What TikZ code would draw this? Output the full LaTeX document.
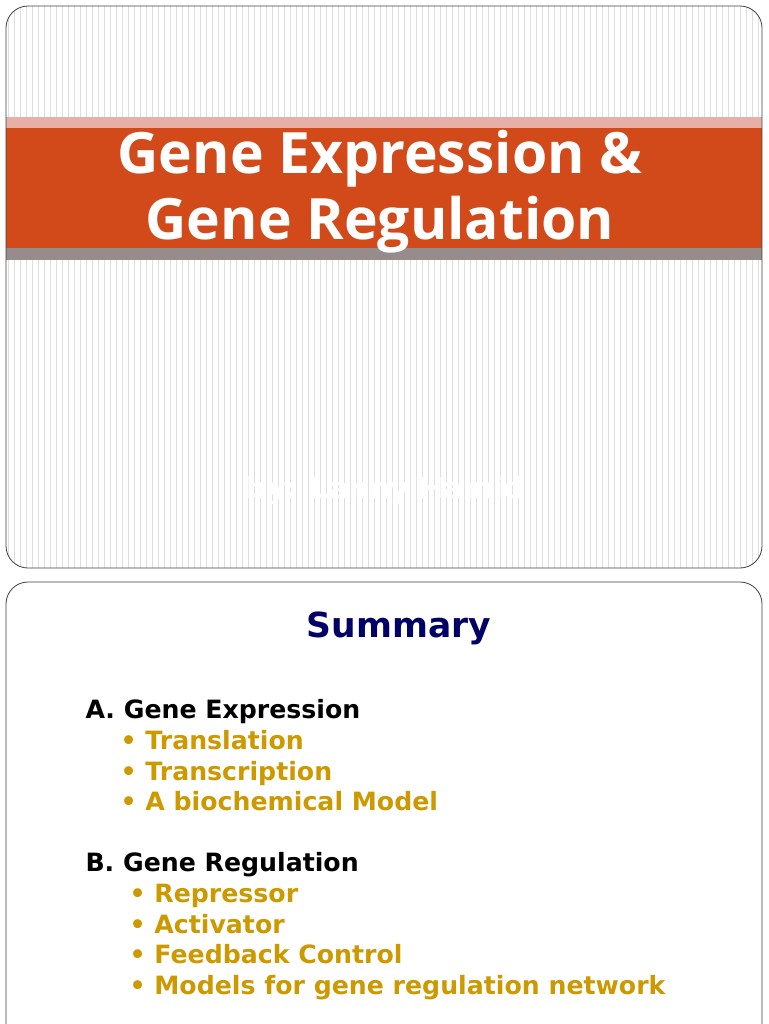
\documentclass[tikz,border=0pt]{standalone}
\usepackage{fontspec}
\setmainfont{DejaVu Sans}
\newfontfamily\titlefont{Open Sans}
\definecolor{band}{RGB}{210,73,26}
\definecolor{pinkb}{RGB}{230,176,168}
\definecolor{grayb}{RGB}{150,140,140}
\definecolor{navy}{RGB}{0,0,102}
\definecolor{gold}{RGB}{204,153,0}
\definecolor{stripe}{RGB}{222,222,222}
\begin{document}
\begin{tikzpicture}[x=1pt,y=-1pt,
  slide/.style={draw=black!75,line width=0.8pt,rounded corners=22pt},
  ttl/.style={font=\titlefont\bfseries\fontsize{57}{62}\selectfont,text=white,anchor=base},
  item/.style={font=\bfseries\fontsize{25.2}{29}\selectfont,anchor=base west}]
\useasboundingbox (0,0) rectangle (768,1024);
\fill[white] (0,0) rectangle (768,1024);
\begin{scope}
\clip[rounded corners=22pt] (6,6) rectangle (762,568);
\foreach \x in {8,14,...,762} \draw[stripe,line width=0.8pt] (\x,6) -- (\x,568);
\fill[pinkb] (6,117) rectangle (762,128);
\fill[band] (6,128) rectangle (762,248);
\fill[grayb] (6,248) rectangle (762,260);
\end{scope}
\draw[slide] (6,6) rectangle (762,568);
\node[ttl] (t1) at (380,174) {Gene Expression \&};
\node[ttl] (t2) at (380,240) {Gene Regulation};
\node[font=\bfseries\fontsize{29}{33}\selectfont,text=white,anchor=base] (by) at (385,498) {by: Lanny Hamid};
\draw[slide] (6,582) rectangle (762,1060);
\node[font=\bfseries\fontsize{34.5}{38}\selectfont,text=navy,anchor=base] (sum) at (399,637) {Summary};
\node[item] (a) at (82,718) {A. Gene Expression};
\node[item,text=gold] (a1) at (117,749) {• Translation};
\node[item,text=gold] (a2) at (117,780) {• Transcription};
\node[item,text=gold] (a3) at (117,810) {• A biochemical Model};
\node[item] (b) at (82,871) {B. Gene Regulation};
\node[item,text=gold] (b1) at (126,902) {• Repressor};
\node[item,text=gold] (b2) at (126,933) {• Activator};
\node[item,text=gold] (b3) at (126,963) {• Feedback Control};
\node[item,text=gold] (b4) at (126,994) {• Models for gene regulation network};
\end{tikzpicture}
\end{document}
